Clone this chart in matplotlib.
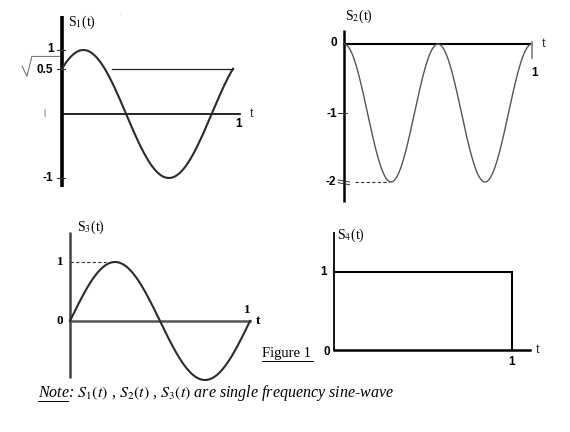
import numpy as np
import matplotlib
matplotlib.use("Agg")
import matplotlib.pyplot as plt

plt.rcParams['mathtext.fontset'] = 'stix'

W, H = 570, 432

# signal data (period = 1 s)
t = np.linspace(0, 1, 400)
s1 = np.sin(2 * np.pi * t + np.pi / 4)      # starts at sqrt(0.5)
s2 = np.cos(4 * np.pi * t) - 1              # between 0 and -2
s3 = np.sin(2 * np.pi * t)
t4 = [0, 1]
s4 = [1, 1]

s1_level = np.sqrt(0.5)
s2_min = -2
s3_max = 1

fig = plt.figure(figsize=(W / 100, H / 100), dpi=100)
fig.patch.set_facecolor('white')

SANS = 'Liberation Sans'
SERIF = 'Liberation Serif'


def panel(t0px, t1px, zero_py, sy, xlim, ylim):
    # place an axes so that t=0..1 and the values land where the figure has them
    sx = t1px - t0px
    left = t0px + xlim[0] * sx
    right = t0px + xlim[1] * sx
    top = zero_py - ylim[1] * sy
    bottom = zero_py - ylim[0] * sy
    ax = fig.add_axes([left / W, 1 - bottom / H, (right - left) / W, (bottom - top) / H])
    ax.set_xlim(xlim)
    ax.set_ylim(ylim)
    ax.axis('off')
    return ax


def lab(ax, x, y, s, **kw):
    kw.setdefault('family', SANS)
    kw.setdefault('fontsize', 8.5)
    kw.setdefault('fontweight', 'bold')
    kw.setdefault('va', 'center')
    ax.text(x, y, s, **kw)


# ---- S1 ----
ax1 = panel(62, 233, 114, 64, (-0.3, 1.15), (-1.2, 1.6))
ax1.plot([0, 0], [-1.14, 1.53], color='black', lw=2.6, solid_capstyle='butt')
ax1.plot([0, 1.04], [0, 0], color='black', lw=1.2)
ax1.plot(t, s1, color='#2b2b2b', lw=1.5)
ax1.plot([0.29, 1.0], [s1_level, s1_level], color='#222', lw=0.9)
for v in [1, s1_level, -1]:
    ax1.plot([-0.03, 0.02], [v, v], color='#333', lw=0.8)
lab(ax1, -0.05, 1.02, '1', ha='right')
lab(ax1, -0.05, 0.68, '0.5', ha='right')
lab(ax1, -0.05, -1.0, '-1', ha='right')
lab(ax1, -0.1, 0.0, 'l', fontweight='normal', color='#777', fontsize=7, ha='center')
# radical sign in front of 0.5
ax1.plot([-0.234, -0.205, -0.176, -0.01], [0.75, 0.59, 0.9, 0.9], color='#666', lw=0.7)
lab(ax1, 1.11, 0.0, 't', fontweight='normal', fontsize=9, ha='center', color='#333')
lab(ax1, 1.03, -0.16, '1', ha='center')
ax1.text(0.035, 1.44, r'S$_{\mathrm{1}}$(t)', family=SERIF, fontsize=10, va='center')
ax1.text(0.34, 1.55, '.', color='#999', fontsize=5, ha='center')

# ---- S2 ----
ax2 = panel(344, 532, 44, 69, (-0.15, 1.1), (-2.4, 0.45))
ax2.plot([0, 0], [0.2, -2.29], color='black', lw=1.8, solid_capstyle='butt')
ax2.plot([0, 1.0], [0, 0], color='black', lw=1.5)
ax2.plot(t, s2, color='#555', lw=1.0)
ax2.plot([0.06, 0.24], [s2_min, s2_min], color='#333', lw=0.8, ls=(0, (3, 2)))
ax2.plot([-0.03, 0.016], [-1, -1], color='#333', lw=0.7)
ax2.plot([-0.03, 0.03], [-1.97, -2.0], color='#333', lw=0.7)
ax2.plot([-0.03, 0.03], [-2.01, -2.04], color='#333', lw=0.7)
ax2.plot([1.0, 1.0], [0.03, -0.2], color='#888', lw=1.3)
lab(ax2, -0.035, 0.01, '0', ha='right')
lab(ax2, -0.035, -1.02, '-1', ha='right')
lab(ax2, -0.045, -2.0, '-2', ha='right')
lab(ax2, 1.06, 0.0, 't', fontweight='normal', fontsize=9, ha='center', color='#333')
lab(ax2, 1.016, -0.42, '1', ha='center')
ax2.text(0.005, 0.4, r'S$_{\mathrm{2}}$(t)', family=SERIF, fontsize=10, va='center')

# ---- S3 ----
ax3 = panel(70, 250, 321, 59, (-0.15, 1.15), (-1.1, 1.7))
ax3.plot([0, 0], [1.51, -0.97], color='#444', lw=1.8, solid_capstyle='butt')
ax3.plot([0, 1.0], [0, 0], color='#555', lw=1.8)
ax3.plot(t, s3, color='#2b2b2b', lw=1.5)
ax3.plot([0, 0.2], [s3_max, s3_max], color='#333', lw=0.8, ls=(0, (3, 2)))
lab(ax3, -0.055, 1.0, '1', family=SERIF, fontsize=9.5, ha='center')
lab(ax3, -0.055, 0.0, '0', family=SERIF, fontsize=9.5, ha='center')
lab(ax3, 0.983, 0.19, '1', family=SERIF, fontsize=9.5, ha='center')
lab(ax3, 1.044, 0.0, 't', family=SERIF, fontsize=9.5, ha='center')
ax3.text(0.04, 1.59, r'S$_{\mathrm{3}}$(t)', family=SERIF, fontsize=10, va='center')

# ---- S4 ----
ax4 = panel(334, 512, 350, 78, (-0.15, 1.25), (-0.3, 1.6))
ax4.plot([0, 0], [0, 1.51], color='black', lw=1.3, solid_capstyle='butt')
ax4.plot([0, 1.1], [0, 0], color='black', lw=1.8)
ax4.plot(t4, s4, color='black', lw=1.5)
ax4.vlines(t4[-1], 0, s4[-1], color='black', lw=1.5)
lab(ax4, -0.06, 1.0, '1', ha='center')
lab(ax4, -0.04, -0.03, '0', ha='center')
lab(ax4, 1.0, -0.15, '1', ha='center')
lab(ax4, 1.146, 0.0, 't', fontweight='normal', fontsize=9, ha='center', color='#333')
ax4.text(0.017, 1.47, r'S$_{\mathrm{4}}$(t)', family=SERIF, fontsize=10, va='center')

# ---- captions ----
fig.text(287 / W, 1 - 353 / H, 'Figure 1', family=SERIF, fontsize=10.5,
         ha='center', va='center')
fig.add_artist(plt.Line2D([262 / W, 313 / W], [1 - 361 / H, 1 - 361 / H],
                          color='black', lw=0.7))
fig.text(38 / W, 1 - 393 / H,
         r'Note: $S_1(t)$ , $S_2(t)$ , $S_3(t)$ are single frequency sine-wave',
         family=SERIF, style='italic', fontsize=11.5, ha='left', va='center')
fig.add_artist(plt.Line2D([38 / W, 68 / W], [1 - 401 / H, 1 - 401 / H],
                          color='black', lw=0.7))

fig.savefig('out.png', dpi=100)
